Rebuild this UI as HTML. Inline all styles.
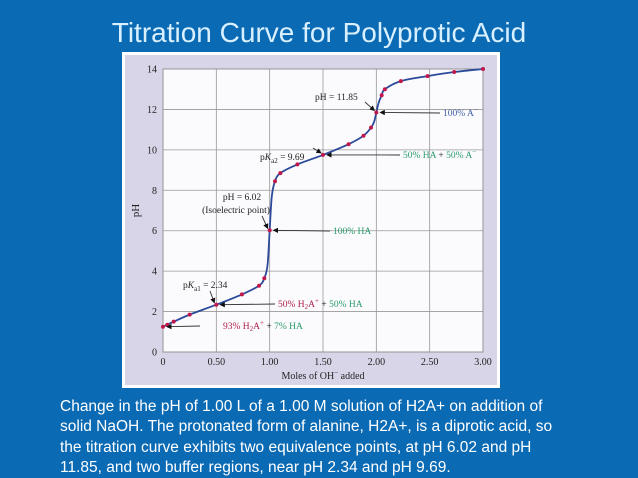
<!DOCTYPE html>
<html><head><meta charset="utf-8">
<style>
body{margin:0;width:638px;height:478px;overflow:hidden;background:#0a6ab4;font-family:"Liberation Sans",sans-serif;position:relative}
#title{position:absolute;left:0;width:638px;top:17px;text-align:center;color:#d8f0ff;font-size:28px}
#frame{position:absolute;left:122px;top:52px;width:378px;height:336px;background:#fff}
#caption{position:absolute;left:60px;top:397px;width:580px;color:#fff;font-size:15.5px;line-height:20.3px;white-space:nowrap}
svg text{font-family:"Liberation Serif",serif}
</style></head><body>
<div id="title">Titration Curve for Polyprotic Acid</div>
<div id="frame">
<svg id="chart" width="378" height="336"></svg>
</div>
<div id="caption">Change in the pH of 1.00 L of a 1.00 M solution of H2A+ on addition of<br>solid NaOH. The protonated form of alanine, H2A+, is a diprotic acid, so<br>the titration curve exhibits two equivalence points, at pH 6.02 and pH<br>11.85, and two buffer regions, near pH 2.34 and pH 9.69.</div>
<script>
const xTicks=[0,0.5,1,1.5,2,2.5,3];
const xTickLabels=["0","0.50","1.00","1.50","2.00","2.50","3.00"];
const yTicks=[0,2,4,6,8,10,12,14];
const pointX=[0,0.04,0.1,0.25,0.5,0.74,0.9,0.95,1.0,1.05,1.1,1.26,1.5,1.74,1.88,1.95,2.0,2.05,2.08,2.23,2.48,2.73,3.0];
const pointY=[1.25,1.35,1.5,1.85,2.34,2.85,3.28,3.65,6.02,8.45,8.85,9.28,9.75,10.28,10.7,11.1,11.85,12.7,13.0,13.4,13.65,13.85,14.0];
const curveX=[0,0.04,0.1,0.25,0.5,0.74,0.9,0.95,0.98,1.0,1.02,1.05,1.1,1.26,1.5,1.74,1.88,1.95,1.98,2.0,2.02,2.05,2.08,2.23,2.48,2.73,3.0];
const curveY=[1.25,1.35,1.5,1.85,2.34,2.85,3.28,3.65,4.3,6.02,7.7,8.45,8.85,9.28,9.75,10.28,10.7,11.1,11.4,11.85,12.3,12.7,13.0,13.4,13.65,13.85,14.0];
const NS="http://www.w3.org/2000/svg";
const svg=document.getElementById('chart');
const OX=122,OY=52;
const L=163-OX,R=483-OX,T=69-OY,B=352-OY;
const sx=v=>L+v/3*(R-L), sy=v=>B-v/14*(B-T);
function mk(t,a,p){const e=document.createElementNS(NS,t);for(const k in a)e.setAttribute(k,a[k]);(p||svg).appendChild(e);return e;}
let bg=mk('rect',{x:3,y:3,width:372,height:330,fill:'#d9d5e8'});

let pa=mk('rect',{x:L,y:T,width:R-L,height:B-T,fill:'#fbfbfd',stroke:'#888','stroke-width':1});

xTicks.forEach((v,i)=>{
 let g=mk('line',{x1:sx(v),x2:sx(v),y1:T,y2:B,stroke:'#999','stroke-width':0.8});
 
 let t=mk('text',{x:sx(v),y:B+13,'font-size':10,'text-anchor':'middle',fill:'#222'});t.textContent=xTickLabels[i];
 
});
yTicks.forEach(v=>{
 let g=mk('line',{x1:L,x2:R,y1:sy(v),y2:sy(v),stroke:'#999','stroke-width':0.8});
 
 let t=mk('text',{x:L-6,y:sy(v)+3.5,'font-size':10,'text-anchor':'end',fill:'#222'});t.textContent=v;
 
});
let xt=mk('text',{x:(L+R)/2,y:B+27,'font-size':10,'text-anchor':'middle',fill:'#222'});xt.innerHTML='Moles of OH<tspan font-size="7" dy="-4">−</tspan><tspan dy="4"> added</tspan>';

let yt=mk('text',{x:0,y:0,'font-size':11,'text-anchor':'middle',fill:'#222',transform:`translate(${L-24},${(T+B)/2}) rotate(-90)`});yt.textContent='pH';

const P=curveX.map((x,i)=>[sx(x),sy(curveY[i])]);
let d='M'+P[0][0]+','+P[0][1];
for(let i=0;i<P.length-1;i++){const p0=P[Math.max(0,i-1)],p1=P[i],p2=P[i+1],p3=P[Math.min(P.length-1,i+2)];
 d+=` C${p1[0]+(p2[0]-p0[0])/6},${p1[1]+(p2[1]-p0[1])/6} ${p2[0]-(p3[0]-p1[0])/6},${p2[1]-(p3[1]-p1[1])/6} ${p2[0]},${p2[1]}`;}
let c=mk('path',{d:d,fill:'none',stroke:'#2b4a9a','stroke-width':1.8});

pointX.forEach((x,i)=>{let p=mk('circle',{cx:sx(x),cy:sy(pointY[i]),r:2,fill:'#c0184a'});
 });
mk('defs',{}).innerHTML='<marker id="ah" markerWidth="6" markerHeight="6" refX="5" refY="3" orient="auto"><path d="M0,0 L6,3 L0,6z" fill="#111"/></marker>';
function arrow(x1,y1,x2,y2,name){let a=mk('line',{x1,y1,x2,y2,stroke:'#333','stroke-width':0.9,'marker-end':'url(#ah)'});
 }
function label(x,y,html,name,anchor){let t=mk('text',{x,y,'font-size':9.5,'text-anchor':anchor||'start',fill:'#222'});t.innerHTML=html;
 }
const G='#2a9a6a',M='#b0204a',Bl='#4060a8';
arrow(200-OX,326-OY,sx(0)+4,sy(1.25),'arrow-93pct');
label(223-OX,329-OY,`<tspan fill="${M}">93% H<tspan font-size="7" dy="2">2</tspan><tspan dy="-2">A</tspan><tspan font-size="7" dy="-4">+</tspan></tspan><tspan dy="4"> + </tspan><tspan fill="${G}">7% HA</tspan>`,'label-93pct-h2a');
arrow(275-OX,304-OY,sx(0.5)+4,sy(2.34),'arrow-50pct-h2a');
label(278-OX,307-OY,`<tspan fill="${M}">50% H<tspan font-size="7" dy="2">2</tspan><tspan dy="-2">A</tspan><tspan font-size="7" dy="-4">+</tspan></tspan><tspan dy="4"> + </tspan><tspan fill="${G}">50% HA</tspan>`,'label-50pct-h2a');
arrow(330-OX,231-OY,sx(1)+4,sy(6.02),'arrow-100pct-ha');
label(333-OX,234-OY,`<tspan fill="${G}">100% HA</tspan>`,'label-100pct-ha');
arrow(400-OX,155-OY,sx(1.5)+4,sy(9.75),'arrow-50pct-ha');
label(403-OX,158-OY,`<tspan fill="${G}">50% HA</tspan> + <tspan fill="${G}">50% A<tspan font-size="7" dy="-4">−</tspan></tspan>`,'label-50pct-ha-a');
arrow(440-OX,113-OY,sx(2)+4,sy(11.85),'arrow-100pct-a');
label(443-OX,116-OY,`<tspan fill="${Bl}">100% A<tspan font-size="7" dy="-4">−</tspan></tspan>`,'label-100pct-a');
label(183-OX,288-OY,'p<tspan font-style="italic">K</tspan><tspan font-size="7" dy="3">a1</tspan><tspan dy="-3"> = 2.34</tspan>','label-pka1');
arrow(210-OX,291-OY,sx(0.5)-2,sy(2.34)-2,'arrow-pka1');
label(242-OX,200-OY,'pH = 6.02','label-ph-602','middle');
label(236-OX,213-OY,'(Isoelectric point)','label-isoelectric','middle');
arrow(262-OX,216-OY,sx(1)-2,sy(6.02)-2,'arrow-isoelectric');
label(260-OX,160-OY,'p<tspan font-style="italic">K</tspan><tspan font-size="7" dy="3">a2</tspan><tspan dy="-3"> = 9.69</tspan>','label-pka2');
arrow(313-OX,148-OY,sx(1.5)-2,sy(9.75)-2,'arrow-pka2');
label(315-OX,100-OY,'pH = 11.85','label-ph-1185');
arrow(365-OX,102-OY,sx(2)-2,sy(11.85)-2,'arrow-ph-1185');
</script>
</body></html>
